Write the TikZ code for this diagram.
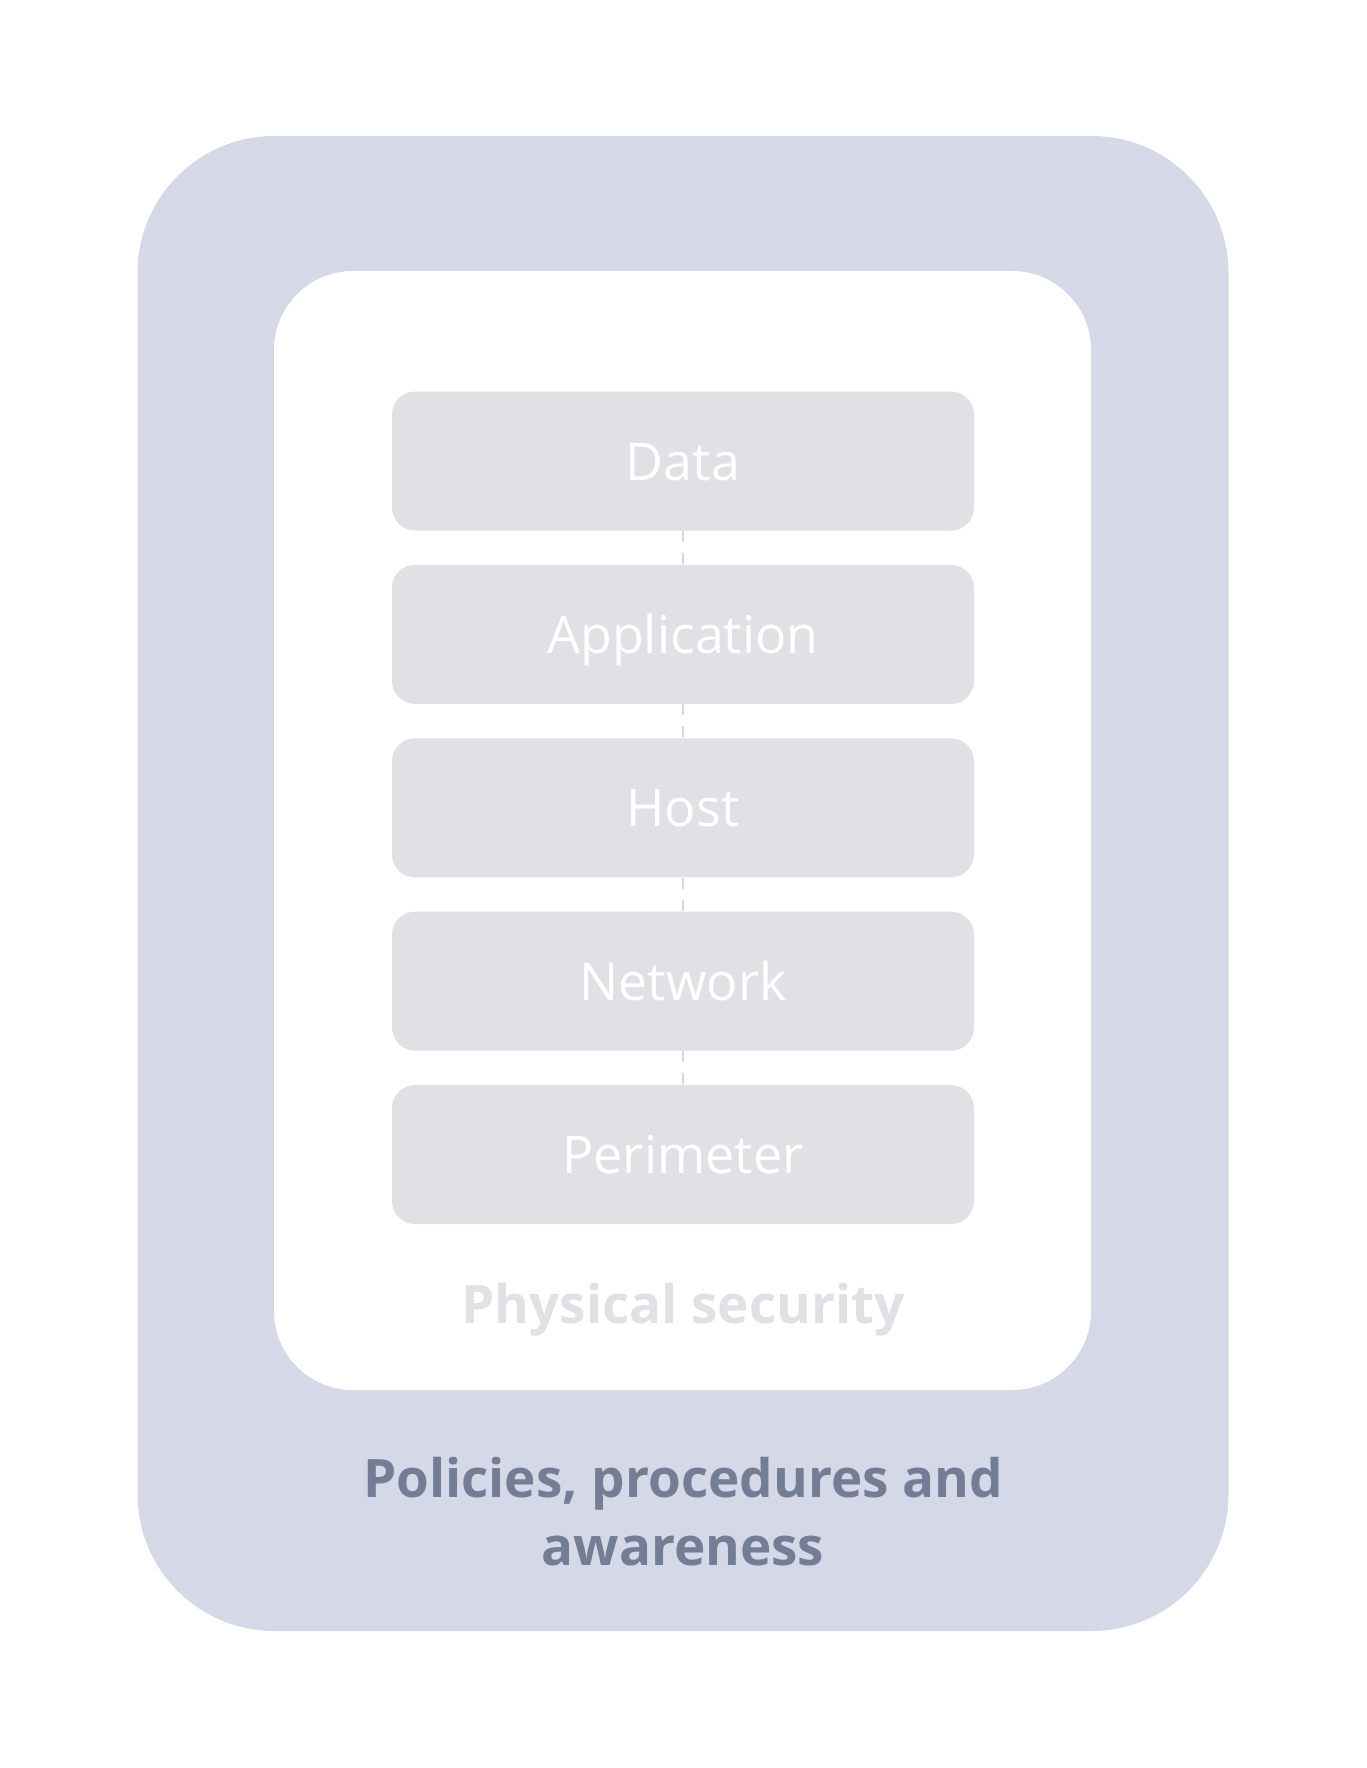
\documentclass[tikz,border=0pt]{standalone}
\usepackage{fontspec}
\setmainfont{Open Sans}
\usetikzlibrary{positioning}
\definecolor{policyblue}{HTML}{D5D9E7}
\definecolor{layergrey}{HTML}{E1E0E5}
\definecolor{policytext}{HTML}{737D96}
\definecolor{linkgrey}{HTML}{D8D8DE}
\tikzset{
    layer/.style={rectangle, rounded corners=23pt, fill=layergrey,
        minimum width=582pt, minimum height=139pt, inner sep=0pt,
        text=white, text height=38pt, text depth=0pt,
        font=\fontsize{52}{60}\selectfont},
    link/.style={draw=linkgrey, line width=2pt, dash pattern=on 11pt off 11pt},
    caption/.style={font=\bfseries\fontsize{53}{68}\selectfont, inner sep=0pt}
}

\begin{document}
\begin{tikzpicture}[x=1pt, y=-1pt]
	\useasboundingbox (0,0) rectangle (1366,1768);
	\node (outer) [rectangle, rounded corners=137pt, fill=policyblue,
		minimum width=1091pt, minimum height=1495pt] at (683,883.5) {};
	\node (inner) [rectangle, rounded corners=79pt, fill=white,
		minimum width=817pt, minimum height=1119pt] at (682.5,830.5) {};
	
	\node (data) [layer] at (683,461) {Data};
	\node (app) [layer, below=34pt of data] {Application};
	\node (host) [layer, below=34pt of app] {Host};
	\node (network) [layer, below=34pt of host] {Network};
	\node (perimeter) [layer, below=34pt of network] {Perimeter};
	
	\draw[link] (data) -- (app); \draw[link] (app) -- (host);
	\draw[link] (host) -- (network); \draw[link] (network) -- (perimeter);
	
	\node (physical) [caption, text=layergrey, anchor=base] at (683,1323) {Physical security};
	\node (policies) [caption, text=policytext, anchor=base, align=center] at (683,1565)
		{Policies, procedures and\\awareness};
\end{tikzpicture}
\end{document}
